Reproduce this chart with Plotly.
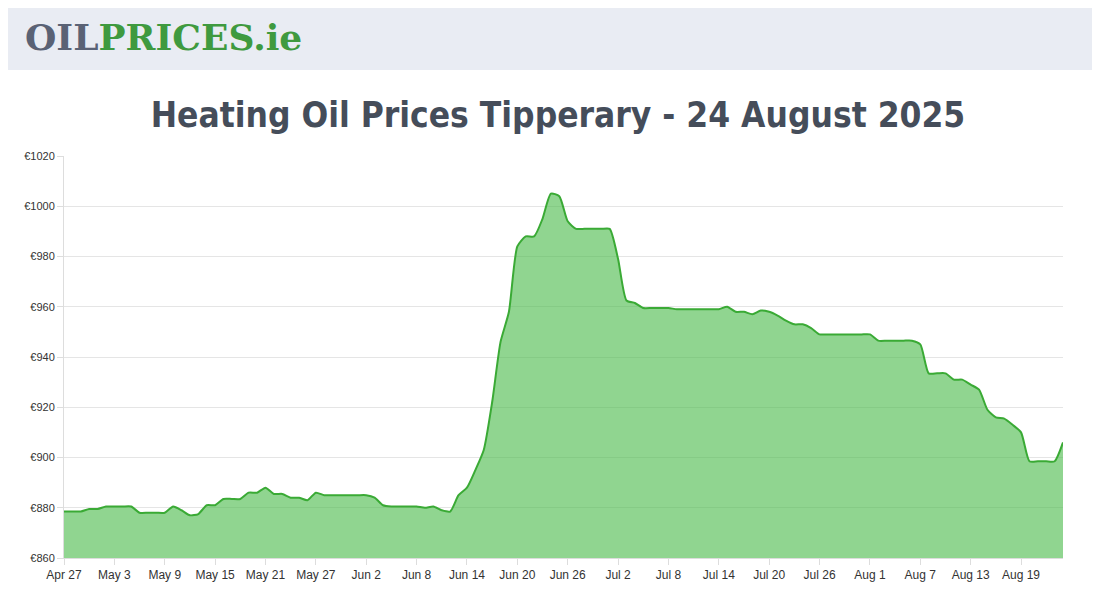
import pandas as pd
import plotly.graph_objects as go

# daily prices, Apr 27 -> Aug 24 2025
dates = pd.date_range("2025-04-27", "2025-08-24", freq="D")
prices = [
    878.5, 878.5, 878.5, 879.5, 879.5, 880.5, 880.5, 880.5, 880.5, 878, 878, 878,
    878, 880.5, 879, 877, 877.5, 881, 881, 883.5, 883.5, 883.5, 886, 886,
    888, 885.5, 885.5, 884, 884, 883, 886, 885, 885, 885, 885, 885,
    885, 884, 881, 880.5, 880.5, 880.5, 880.5, 880, 880.5, 879, 878.5, 885,
    888, 895, 903, 922, 946, 958, 984, 988, 988, 995, 1005, 1004,
    994, 991, 991, 991, 991, 991, 979, 962.5, 961.5, 959.5, 959.5, 959.5,
    959.5, 959, 959, 959, 959, 959, 959, 960, 958, 958, 957, 958.5,
    958, 956.5, 954.5, 953, 953, 951.5, 949, 949, 949, 949, 949, 949,
    949, 946.5, 946.5, 946.5, 946.5, 946.5, 945, 933.5, 933.5, 933.5, 931, 931,
    929, 927, 919, 916, 915.5, 913, 910, 898.5, 898.5, 898.5, 898.5, 906,
]
tick_dates = pd.date_range("2025-04-27", "2025-08-19", freq="6D")
tick_text = [d.strftime("%b %-d") for d in tick_dates]
y_ticks = list(range(860, 1021, 20))

fig = go.Figure()
fig.add_trace(go.Scatter(
    x=dates, y=prices, mode="lines", line=dict(color="#3aaa35", width=2, shape="spline", smoothing=0.6),
    fill="tozeroy", fillcolor="rgba(70,185,70,0.6)", hoverinfo="x+y"))

# header band
fig.add_shape(type="rect", xref="paper", yref="paper", x0=-0.06, x1=1.05, y0=1.214, y1=1.37,
              fillcolor="#e9ecf3", line_width=0, layer="below")
fig.add_annotation(xref="paper", yref="paper", x=-0.041, y=1.296, xanchor="left", yanchor="middle",
                   showarrow=False,
                   text="<b><span style='color:#5a6275'>OIL</span><span style='color:#3f9a3f'>PRICES.ie</span></b>",
                   font=dict(family="DejaVu Serif", size=36))

fig.update_layout(
    width=1100, height=600, showlegend=False,
    paper_bgcolor="white", plot_bgcolor="white",
    margin=dict(l=56, r=45, t=148, b=50),
    title=dict(text="<b>Heating Oil Prices Tipperary - 24 August 2025</b>", x=0.5, xanchor="center",
               y=0.822, yanchor="middle",
               font=dict(family="DejaVu Sans Condensed, Roboto", size=35, color="#454d5a")),
    xaxis=dict(range=[dates[0], dates[-1]], tickvals=tick_dates, ticktext=tick_text,
               showgrid=False, ticks="outside", ticklen=6, tickcolor="#ddd",
               showline=True, linecolor="#ddd", tickfont=dict(family="Arial", size=12, color="#333")),
    yaxis=dict(range=[860, 1020], tickvals=y_ticks, ticktext=[f"€{v}" for v in y_ticks],
               gridcolor="#e5e5e5", zeroline=False, showline=True, linecolor="#ddd",
               ticks="outside", ticklen=6, tickcolor="#ddd",
               tickfont=dict(family="Arial", size=11, color="#333")),
)
fig.write_html("out.html")
